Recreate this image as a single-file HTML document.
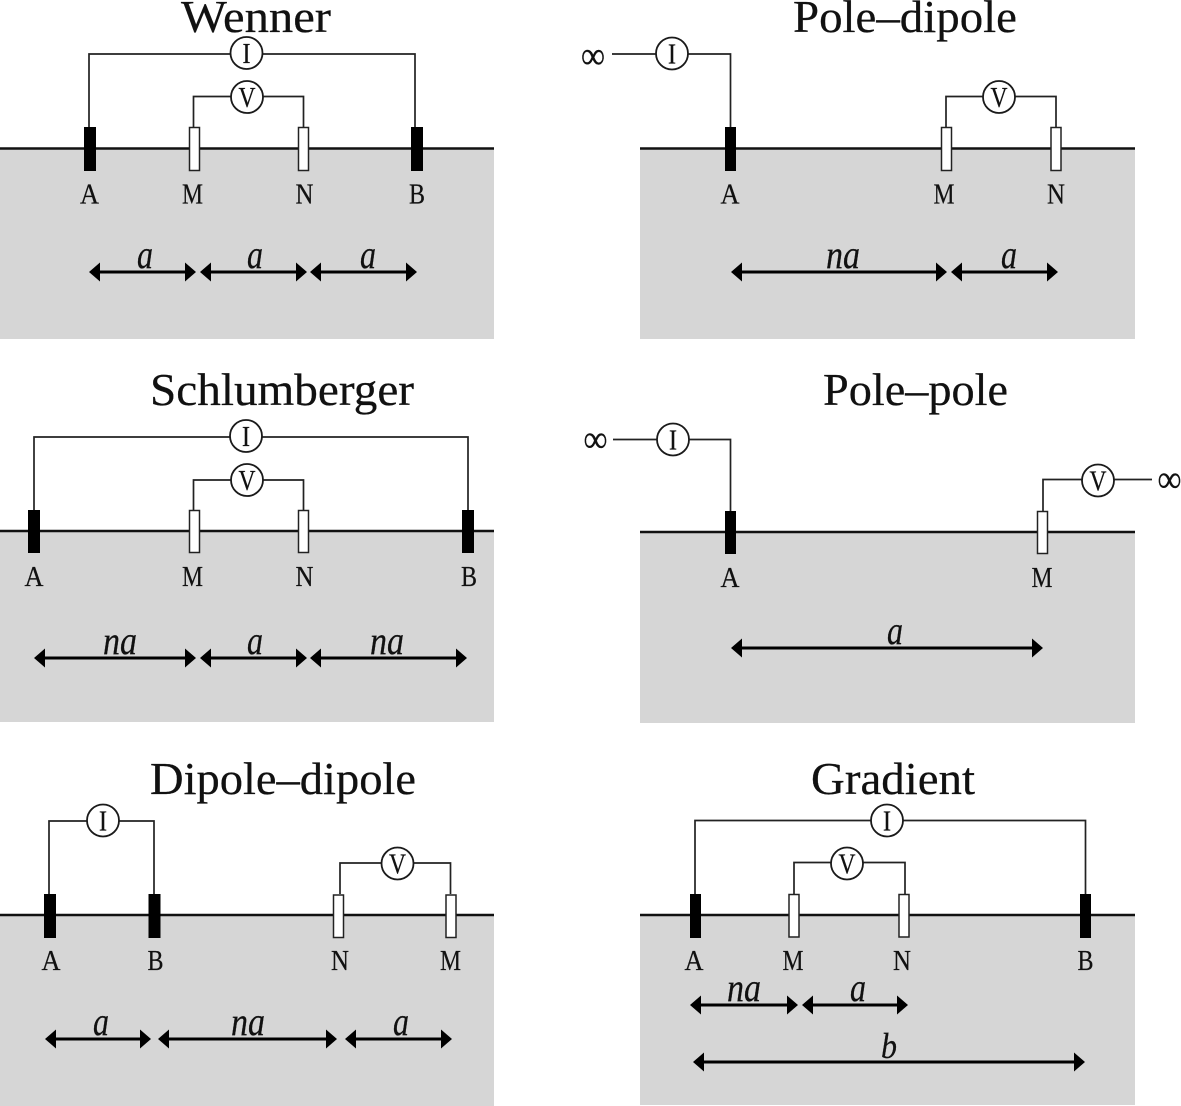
<!DOCTYPE html>
<html><head><meta charset="utf-8"><style>
html,body{margin:0;padding:0;background:#fff}
svg{display:block}
text{font-family:"Liberation Serif",serif;fill:#111;text-anchor:middle;stroke:#111;stroke-width:.25px}
.t{font-size:46px}
.l{font-size:29px}
.m{font-size:28px}
.n{font-size:39px;stroke-width:.2px}
.i{font-size:40px;font-style:italic}
.b{font-size:36px;font-style:italic}
.w{fill:none;stroke:#222;stroke-width:1.7}
.g{fill:none;stroke:#111;stroke-width:2.6}
.c{fill:#fff;stroke:#1a1a1a;stroke-width:1.8}
.k{fill:#000}
.e{fill:#fff;stroke:#222;stroke-width:1.5}
.p{fill:#d6d6d6}
</style></head><body>
<svg xmlns="http://www.w3.org/2000/svg" width="1181" height="1106" viewBox="0 0 1181 1106">
<rect width="1181" height="1106" fill="#fff"/>
<rect class="p" x="0" y="149" width="494" height="190"/>
<rect class="p" x="640" y="149" width="495" height="190"/>
<rect class="p" x="0" y="531" width="494" height="191"/>
<rect class="p" x="640" y="532" width="495" height="191"/>
<rect class="p" x="0" y="915" width="494" height="191"/>
<rect class="p" x="640" y="915" width="495" height="190"/>
<path class="g" d="M0 148.500H494M640 148.500H1135M0 531H494M640 532H1135M0 915H494M640 915H1135"/>

<!-- Wenner -->
<text class="t" x="256" y="32" textLength="150" lengthAdjust="spacingAndGlyphs">Wenner</text>
<path class="w" d="M89 127V54H415V127M193.500 127V96.500H303.500V127"/>
<rect class="k" x="84" y="127" width="12" height="44"/><rect class="k" x="411" y="127" width="12" height="44"/>
<rect class="e" x="189.500" y="127.500" width="10" height="43"/><rect class="e" x="298.500" y="127.500" width="10" height="43"/>
<circle class="c" cx="246.500" cy="53" r="16"/><circle class="c" cx="247" cy="97" r="16"/>
<text class="m" x="246.500" y="63" textLength="8" lengthAdjust="spacingAndGlyphs">I</text><text class="m" x="247" y="107" textLength="17" lengthAdjust="spacingAndGlyphs">V</text>
<text class="l" x="89.500" y="203.500" textLength="19" lengthAdjust="spacingAndGlyphs">A</text><text class="l" x="192.500" y="203.500" textLength="21" lengthAdjust="spacingAndGlyphs">M</text><text class="l" x="304.500" y="203.500" textLength="18" lengthAdjust="spacingAndGlyphs">N</text><text class="l" x="417" y="203.500" textLength="16" lengthAdjust="spacingAndGlyphs">B</text>
<path class="k" d="M89 272l11-9.500v8H185v-8l11 9.500-11 9.500v-8H100v8zM200 272l11-9.500v8H296v-8l11 9.500-11 9.500v-8H211v8zM310 272l11-9.500v8H406v-8l11 9.500-11 9.500v-8H321v8z"/>
<text class="i" x="145" y="268" textLength="16" lengthAdjust="spacingAndGlyphs">a</text><text class="i" x="255" y="268" textLength="16" lengthAdjust="spacingAndGlyphs">a</text><text class="i" x="368" y="268" textLength="16" lengthAdjust="spacingAndGlyphs">a</text>

<!-- Pole-dipole -->
<text class="t" x="905" y="32" textLength="224" lengthAdjust="spacingAndGlyphs">Pole–dipole</text>
<path class="w" d="M612 54H730.500V127M946 127V96.500H1056V127"/>
<rect class="k" x="725" y="127" width="11" height="44"/>
<rect class="e" x="941.500" y="127.500" width="10" height="43"/><rect class="e" x="1051" y="127.500" width="10" height="43"/>
<circle class="c" cx="672" cy="53.500" r="16"/><circle class="c" cx="999" cy="97" r="16"/>
<text class="m" x="672" y="63.500" textLength="8" lengthAdjust="spacingAndGlyphs">I</text><text class="m" x="999" y="107" textLength="17" lengthAdjust="spacingAndGlyphs">V</text>
<text class="n" x="593" y="68.500" textLength="24" lengthAdjust="spacingAndGlyphs">∞</text>
<text class="l" x="730" y="203.500" textLength="19" lengthAdjust="spacingAndGlyphs">A</text><text class="l" x="944" y="203.500" textLength="21" lengthAdjust="spacingAndGlyphs">M</text><text class="l" x="1056" y="203.500" textLength="18" lengthAdjust="spacingAndGlyphs">N</text>
<path class="k" d="M731 272l11-9.500v8H936v-8l11 9.500-11 9.500v-8H742v8zM951 272l11-9.500v8H1047v-8l11 9.500-11 9.500v-8H962v8z"/>
<text class="i" x="843" y="268" textLength="34" lengthAdjust="spacingAndGlyphs">na</text><text class="i" x="1009" y="268" textLength="16" lengthAdjust="spacingAndGlyphs">a</text>

<!-- Schlumberger -->
<text class="t" x="282" y="405" textLength="264" lengthAdjust="spacingAndGlyphs">Schlumberger</text>
<path class="w" d="M34 510V437H468V510M193.500 510V480H303.500V510"/>
<rect class="k" x="28" y="510" width="12" height="43"/><rect class="k" x="462" y="510" width="12" height="43"/>
<rect class="e" x="189.500" y="510.500" width="10" height="42"/><rect class="e" x="298.500" y="510.500" width="10" height="42"/>
<circle class="c" cx="246" cy="436" r="16"/><circle class="c" cx="247" cy="480" r="16"/>
<text class="m" x="246" y="446" textLength="8" lengthAdjust="spacingAndGlyphs">I</text><text class="m" x="247" y="490" textLength="17" lengthAdjust="spacingAndGlyphs">V</text>
<text class="l" x="34" y="586" textLength="19" lengthAdjust="spacingAndGlyphs">A</text><text class="l" x="192.500" y="586" textLength="21" lengthAdjust="spacingAndGlyphs">M</text><text class="l" x="304.500" y="586" textLength="18" lengthAdjust="spacingAndGlyphs">N</text><text class="l" x="469" y="586" textLength="16" lengthAdjust="spacingAndGlyphs">B</text>
<path class="k" d="M34 658l11-9.500v8H185v-8l11 9.500-11 9.500v-8H45v8zM200 658l11-9.500v8H296v-8l11 9.500-11 9.500v-8H211v8zM310 658l11-9.500v8H456v-8l11 9.500-11 9.500v-8H321v8z"/>
<text class="i" x="120" y="654" textLength="34" lengthAdjust="spacingAndGlyphs">na</text><text class="i" x="255" y="654" textLength="16" lengthAdjust="spacingAndGlyphs">a</text><text class="i" x="387" y="654" textLength="34" lengthAdjust="spacingAndGlyphs">na</text>

<!-- Pole-pole -->
<text class="t" x="915.500" y="405" textLength="185" lengthAdjust="spacingAndGlyphs">Pole–pole</text>
<path class="w" d="M613 439.500H730.500V511M1043 511V479.500H1152"/>
<rect class="k" x="725" y="511" width="11" height="43"/>
<rect class="e" x="1037.500" y="511.500" width="10" height="42"/>
<circle class="c" cx="673" cy="439.500" r="16"/><circle class="c" cx="1098" cy="480.500" r="16"/>
<text class="m" x="673" y="449.500" textLength="8" lengthAdjust="spacingAndGlyphs">I</text><text class="m" x="1098" y="490.500" textLength="17" lengthAdjust="spacingAndGlyphs">V</text>
<text class="n" x="595.500" y="452" textLength="24" lengthAdjust="spacingAndGlyphs">∞</text><text class="n" x="1169.500" y="492" textLength="24" lengthAdjust="spacingAndGlyphs">∞</text>
<text class="l" x="730" y="587" textLength="19" lengthAdjust="spacingAndGlyphs">A</text><text class="l" x="1042" y="587" textLength="21" lengthAdjust="spacingAndGlyphs">M</text>
<path class="k" d="M731 648l11-9.500v8H1032v-8l11 9.500-11 9.500v-8H742v8z"/>
<text class="i" x="895" y="644" textLength="16" lengthAdjust="spacingAndGlyphs">a</text>

<!-- Dipole-dipole -->
<text class="t" x="283" y="794" textLength="266" lengthAdjust="spacingAndGlyphs">Dipole–dipole</text>
<path class="w" d="M49 894V821H154V894M340 894V863H450.500V894"/>
<rect class="k" x="44" y="894" width="12" height="44"/><rect class="k" x="148.500" y="894" width="12" height="44"/>
<rect class="e" x="333.500" y="895" width="10" height="42.500"/><rect class="e" x="446" y="895" width="10" height="42.500"/>
<circle class="c" cx="103" cy="820.500" r="16"/><circle class="c" cx="397.500" cy="863.500" r="16"/>
<text class="m" x="103" y="830.500" textLength="8" lengthAdjust="spacingAndGlyphs">I</text><text class="m" x="397.500" y="873.500" textLength="17" lengthAdjust="spacingAndGlyphs">V</text>
<text class="l" x="51" y="970" textLength="19" lengthAdjust="spacingAndGlyphs">A</text><text class="l" x="155.500" y="970" textLength="16" lengthAdjust="spacingAndGlyphs">B</text><text class="l" x="340" y="970" textLength="18" lengthAdjust="spacingAndGlyphs">N</text><text class="l" x="450.500" y="970" textLength="21" lengthAdjust="spacingAndGlyphs">M</text>
<path class="k" d="M45 1039l11-9.500v8H140v-8l11 9.500-11 9.500v-8H56v8zM158 1039l11-9.500v8H326v-8l11 9.500-11 9.500v-8H169v8zM345 1039l11-9.500v8H441v-8l11 9.500-11 9.500v-8H356v8z"/>
<text class="i" x="101" y="1035" textLength="16" lengthAdjust="spacingAndGlyphs">a</text><text class="i" x="248" y="1035" textLength="34" lengthAdjust="spacingAndGlyphs">na</text><text class="i" x="401" y="1035" textLength="16" lengthAdjust="spacingAndGlyphs">a</text>

<!-- Gradient -->
<text class="t" x="893" y="794" textLength="164" lengthAdjust="spacingAndGlyphs">Gradient</text>
<path class="w" d="M695 894V820.500H1085.500V894M794 894V862.500H905V894"/>
<rect class="k" x="690" y="894" width="11" height="44"/><rect class="k" x="1080" y="894" width="11" height="44"/>
<rect class="e" x="789" y="894.500" width="10" height="42.500"/><rect class="e" x="899" y="894.500" width="10" height="42.500"/>
<circle class="c" cx="887" cy="820.500" r="16"/><circle class="c" cx="847" cy="863.500" r="16"/>
<text class="m" x="887" y="830.500" textLength="8" lengthAdjust="spacingAndGlyphs">I</text><text class="m" x="847" y="873.500" textLength="17" lengthAdjust="spacingAndGlyphs">V</text>
<text class="l" x="694" y="970" textLength="19" lengthAdjust="spacingAndGlyphs">A</text><text class="l" x="793" y="970" textLength="21" lengthAdjust="spacingAndGlyphs">M</text><text class="l" x="902" y="970" textLength="18" lengthAdjust="spacingAndGlyphs">N</text><text class="l" x="1085.500" y="970" textLength="16" lengthAdjust="spacingAndGlyphs">B</text>
<path class="k" d="M690 1005l11-9.500v8H787v-8l11 9.500-11 9.500v-8H701v8zM802 1005l11-9.500v8H897v-8l11 9.500-11 9.500v-8H813v8zM693 1062l11-9.500v8H1074v-8l11 9.500-11 9.500v-8H704v8z"/>
<text class="i" x="744" y="1001" textLength="34" lengthAdjust="spacingAndGlyphs">na</text><text class="i" x="858" y="1001" textLength="16" lengthAdjust="spacingAndGlyphs">a</text><text class="b" x="889" y="1058" textLength="16" lengthAdjust="spacingAndGlyphs">b</text>
</svg>
</body></html>
